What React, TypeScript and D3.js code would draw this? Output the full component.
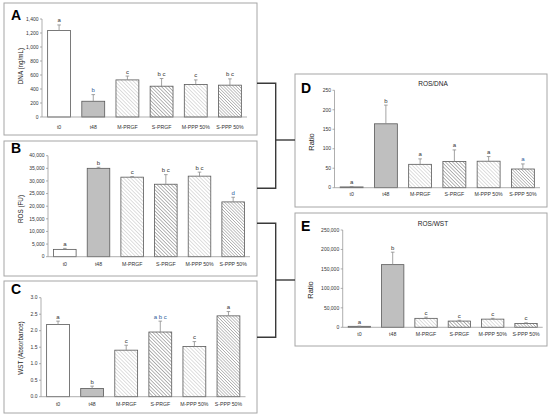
import React from "react";
import * as d3 from "d3";

const categories = ["t0", "t48", "M-PRGF", "S-PRGF", "M-PPP 50%", "S-PPP 50%"];

const dnaMean = [1235, 225, 530, 440, 465, 455];
const dnaErr = [80, 95, 55, 110, 65, 90];
const dnaLetters = ["a", "b", "c", "b c", "c", "b c"];

const rosMean = [2900, 35000, 31500, 28700, 31900, 21700];
const rosErr = [400, 400, 250, 3800, 1600, 1850];
const rosLetters = ["a", "b", "c", "b c", "b c", "d"];

const wstMean = [2.19, 0.25, 1.41, 1.96, 1.52, 2.45];
const wstErr = [0.1, 0.07, 0.15, 0.33, 0.15, 0.13];
const wstLetters = ["a", "b", "c", "a b c", "c", "a"];

const rosDnaMean = [2, 164, 60, 67, 68, 48];
const rosDnaErr = [1, 48, 14, 30, 12, 13];
const rosDnaLetters = ["a", "b", "a", "a", "a", "a"];

const rosWstMean = [2500, 161000, 23000, 16000, 21000, 10000];
const rosWstErr = [500, 32000, 3000, 2000, 2000, 1500];
const rosWstLetters = ["a", "b", "c", "c", "c", "c"];

// which letter labels are printed in blue
const dnaBlue = [false, true, false, false, false, false];
const rosBlue = [false, false, false, false, false, true];
const wstBlue = [false, false, false, true, false, false];
const rosDnaBlue = [false, false, false, false, false, true];
const rosWstBlue = [false, false, false, false, false, false];

const fills = ["#ffffff", "#bfbfbf", "url(#hLight)", "url(#hDark)", "url(#hLight)", "url(#hDark2)"];

const FONT = "'Liberation Sans', Arial, sans-serif";

type PanelCfg = {
  letter: string;
  frame: [number, number, number, number];
  letterPos: [number, number];
  x0: number;
  x1: number;
  yZero: number;
  yTop: number;
  max: number;
  step: number;
  fmt: (v: number) => string;
  ylabel: string;
  ylabelPos: [number, number];
  ylabelSize: number;
  title?: string;
  titleY?: number;
  labelGap: number;
  means: number[];
  errs: number[];
  letters: string[];
  blue: boolean[];
};

const panels: PanelCfg[] = [
  {
    letter: "A", frame: [4, 3, 253, 132], letterPos: [11, 19.5],
    x0: 42, x1: 247, yZero: 117, yTop: 19, max: 1400, step: 200, fmt: d3.format(","),
    ylabel: "DNA (ng/mL)", ylabelPos: [21, 66], ylabelSize: 6.3, labelGap: 11.5,
    means: dnaMean, errs: dnaErr, letters: dnaLetters, blue: dnaBlue,
  },
  {
    letter: "B", frame: [4, 141, 253, 135], letterPos: [11, 152.5],
    x0: 48, x1: 250, yZero: 256.7, yTop: 155.7, max: 40000, step: 5000, fmt: d3.format(","),
    ylabel: "ROS (FU)", ylabelPos: [21, 209], ylabelSize: 6.3, labelGap: 9.5,
    means: rosMean, errs: rosErr, letters: rosLetters, blue: rosBlue,
  },
  {
    letter: "C", frame: [4, 281, 253, 132], letterPos: [11, 293.5],
    x0: 41, x1: 245.5, yZero: 396.7, yTop: 297.7, max: 3, step: 0.5, fmt: d3.format(".1f"),
    ylabel: "WST (Absorbance)", ylabelPos: [21, 348], ylabelSize: 6.3, labelGap: 9.5,
    means: wstMean, errs: wstErr, letters: wstLetters, blue: wstBlue,
  },
  {
    letter: "D", frame: [295, 74, 252, 133], letterPos: [301, 92.5],
    x0: 334.5, x1: 540, yZero: 187.7, yTop: 90.3, max: 250, step: 50, fmt: d3.format("d"),
    ylabel: "Ratio", ylabelPos: [312, 142], ylabelSize: 7.5, title: "ROS/DNA", titleY: 86,
    labelGap: 8.5,
    means: rosDnaMean, errs: rosDnaErr, letters: rosDnaLetters, blue: rosDnaBlue,
  },
  {
    letter: "E", frame: [295, 213, 252, 133], letterPos: [301, 230.5],
    x0: 342.7, x1: 542.7, yZero: 327.3, yTop: 230, max: 250000, step: 50000, fmt: d3.format(","),
    ylabel: "Ratio", ylabelPos: [311, 290], ylabelSize: 7.5, title: "ROS/WST", titleY: 225.5,
    labelGap: 8.5,
    means: rosWstMean, errs: rosWstErr, letters: rosWstLetters, blue: rosWstBlue,
  },
];

function Panel({ p }: { p: PanelCfg }) {
  const x = d3.scaleBand<string>().domain(categories).range([p.x0, p.x1]).paddingInner(0.33).paddingOuter(0.165);
  const y = d3.scaleLinear().domain([0, p.max]).range([p.yZero, p.yTop]);
  const ticks = d3.range(0, p.max + p.step / 2, p.step);
  const [fx, fy, fw, fh] = p.frame;
  return (
    <g>
      <rect x={fx} y={fy} width={fw} height={fh} fill="#fff" stroke="#a6a6a6" strokeWidth={1} />
      <text x={p.letterPos[0]} y={p.letterPos[1]} fontFamily={FONT} fontWeight="bold" fontSize={14} fill="#000">
        {p.letter}
      </text>
      {p.title && (
        <text x={433} y={p.titleY} textAnchor="middle" fontFamily={FONT} fontSize={6.5} fill="#222">
          {p.title}
        </text>
      )}
      <text
        transform={`translate(${p.ylabelPos[0]},${p.ylabelPos[1]}) rotate(-90)`}
        textAnchor="middle"
        dominantBaseline="middle"
        fontFamily={FONT}
        fontSize={p.ylabelSize}
        fill="#222"
      >
        {p.ylabel}
      </text>
      {ticks.map((t) => (
        <g key={t}>
          <line x1={p.x0 - 2} x2={p.x0} y1={y(t)} y2={y(t)} stroke="#8c8c8c" strokeWidth={0.7} />
          <text x={p.x0 - 3.5} y={y(t)} dy="0.35em" textAnchor="end" fontFamily={FONT} fontSize={5} fill="#333">
            {p.fmt(t)}
          </text>
        </g>
      ))}
      <line x1={p.x0} x2={p.x0} y1={y(0)} y2={y(p.max)} stroke="#8c8c8c" strokeWidth={0.7} />
      {categories.map((c, i) => {
        const bx = x(c) as number;
        const bw = x.bandwidth();
        const cx = bx + bw / 2;
        const top = y(p.means[i]);
        const et = y(p.means[i] + p.errs[i]);
        return (
          <g key={c}>
            <rect x={bx} y={top} width={bw} height={y(0) - top} fill={fills[i]} stroke="#595959" strokeWidth={0.8} />
            <line x1={cx} x2={cx} y1={top} y2={et} stroke="#8c8c8c" strokeWidth={0.8} />
            <line x1={cx - 1.8} x2={cx + 1.8} y1={et} y2={et} stroke="#8c8c8c" strokeWidth={0.8} />
            <text
              x={cx}
              y={et - 2.5}
              textAnchor="middle"
              fontFamily={FONT}
              fontSize={6}
              fill={p.blue[i] ? "#2e5c9a" : "#333"}
            >
              {p.letters[i]}
            </text>
            <text x={cx} y={p.yZero + p.labelGap} textAnchor="middle" fontFamily={FONT} fontSize={5.2} fill="#333">
              {c}
            </text>
          </g>
        );
      })}
      <line x1={p.x0} x2={p.x1} y1={y(0)} y2={y(0)} stroke="#8c8c8c" strokeWidth={0.7} />
    </g>
  );
}

export default function App() {
  return (
    <svg
      width={550}
      height={420}
      viewBox="0 0 550 420"
      style={{ position: "absolute", left: 0, top: 0, background: "#fff" }}
    >
      <defs>
        <pattern id="hLight" width={2.6} height={2.6} patternUnits="userSpaceOnUse" patternTransform="rotate(-45)">
          <rect width={2.6} height={2.6} fill="#fff" />
          <line x1={0} y1={0} x2={0} y2={2.6} stroke="#b5b5b5" strokeWidth={0.9} />
        </pattern>
        <pattern id="hDark" width={2.5} height={2.5} patternUnits="userSpaceOnUse" patternTransform="rotate(-45)">
          <rect width={2.5} height={2.5} fill="#fff" />
          <line x1={0} y1={0} x2={0} y2={2.5} stroke="#6b6b6b" strokeWidth={1} />
        </pattern>
        <pattern id="hDark2" width={2.2} height={2.2} patternUnits="userSpaceOnUse" patternTransform="rotate(-45)">
          <rect width={2.2} height={2.2} fill="#fff" />
          <line x1={0} y1={0} x2={0} y2={2.2} stroke="#777" strokeWidth={0.9} />
        </pattern>
      </defs>
      <rect width={550} height={420} fill="#fff" />
      {panels.map((p) => (
        <Panel key={p.letter} p={p} />
      ))}
      <g fill="none" stroke="#3a3a3a" strokeWidth={1.4}>
        <path d="M257,83.3 H275.7 V188.3 H257" />
        <path d="M275.7,140 H295" />
        <path d="M257,223.3 H275.7 V337.3 H257" />
        <path d="M275.7,280 H295" />
      </g>
    </svg>
  );
}
